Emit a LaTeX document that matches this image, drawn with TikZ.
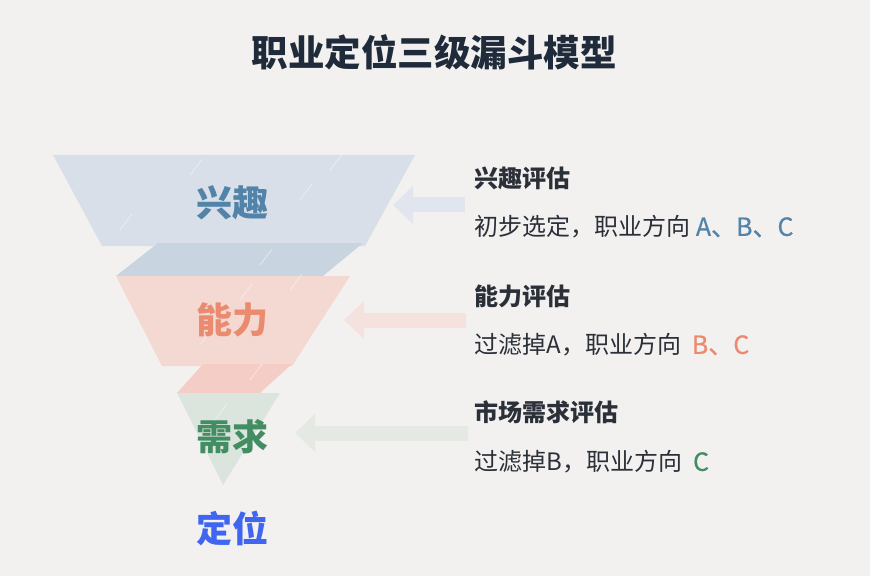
\documentclass[tikz,border=0pt]{standalone}
\usepackage{fontspec}
\setmainfont{Noto Sans CJK SC}
\newfontfamily\latinmedium{Noto Sans CJK SC}[FakeBold=0.6]
\usepackage{xcolor}
\usetikzlibrary{arrows.meta,positioning}

\definecolor{bgcol}{HTML}{F3F1F0}
\definecolor{titlecol}{HTML}{1F2B3A}
\definecolor{textcol}{HTML}{2A2F38}
\definecolor{blueFill}{HTML}{D9DFE8}
\definecolor{blueBand}{HTML}{C8D5E1}
\definecolor{blueText}{HTML}{5283A8}
\definecolor{blueArrow}{HTML}{E0E5EE}
\definecolor{pinkFill}{HTML}{F4D8D2}
\definecolor{pinkBand}{HTML}{F4CEC6}
\definecolor{pinkText}{HTML}{EA8A6E}
\definecolor{pinkArrow}{HTML}{F5E2DF}
\definecolor{greenFill}{HTML}{DCE4DE}
\definecolor{greenText}{HTML}{438D62}
\definecolor{greenArrow}{HTML}{E4E9E4}
\definecolor{posText}{HTML}{4066F0}

\newcommand{\pick}[2]{\textcolor{#1}{\fontsize{25bp}{28bp}\latinmedium #2}}

\begin{document}
\begin{tikzpicture}[x=1bp, y=-1bp, >=Stealth,
    level/.style={font=\fontsize{36bp}{42bp}\selectfont\bfseries},
    head/.style={anchor=west, text=textcol, font=\fontsize{24bp}{28bp}\selectfont\bfseries},
    desc/.style={anchor=west, text=textcol, font=\fontsize{24bp}{28bp}\selectfont},
    arr/.style={line width=15bp, -{Triangle[length=20bp,width=37bp]}}]
    \fill[bgcol] (0,0) rectangle (870,576);
    \useasboundingbox (0,0) rectangle (870,576);

    \node[text=titlecol, font=\fontsize{36.5bp}{42bp}\selectfont\bfseries] (title) at (434,52) {职业定位三级漏斗模型};

    % funnel
    \fill[blueFill] (53,155) -- (415,155) -- (365,246) -- (102,246) -- cycle;
    \fill[blueBand] (158,243) -- (363,243) -- (323,276) -- (116,276) -- cycle;
    \fill[pinkFill] (116,276) -- (350,276) -- (292,366) -- (162,366) -- cycle;
    \fill[pinkBand] (203,364) -- (292,364) -- (260,393) -- (177,393) -- cycle;
    \fill[greenFill] (177,393) -- (280,393) -- (223,485) -- cycle;
    \foreach \x/\y in {120/230, 190/175, 300/200, 260/265, 330/170, 240/300, 200/345, 290/290, 215/420, 250/380}
        \draw[white, opacity=0.45, line width=0.8bp] (\x,\y) -- ++(12,-16);

    \node[level, text=blueText] (interest) at (232,203) {兴趣};
    \node[level, text=pinkText] (ability) at (232,320) {能力};
    \node[level, text=greenText] (demand) at (232,437) {需求};
    \node[level, text=posText] (pos) at (232,528) {定位};

    % right side
    \node[head] (h1) at (471,178) {兴趣评估};
    \node[desc] (d1) at (471,227) {初步选定，职业方向 \pick{blueText}{A、B、C}};
    \node[head] (h2) at (471,296) {能力评估};
    \node[desc] (d2) at (471,345) {过滤掉A，职业方向 \ \pick{pinkText}{B、C}};
    \node[head] (h3) at (471,412) {市场需求评估};
    \node[desc] (d3) at (471,462) {过滤掉B，职业方向 \ \pick{greenText}{C}};

    \coordinate (a1) at (465,205);
    \coordinate (a2) at (466,320);
    \coordinate (a3) at (468,433);
    \coordinate (t1) at (393,205);
    \coordinate (t2) at (344,320);
    \coordinate (t3) at (295,433);
    \draw[arr, blueArrow] (a1) -- (t1);
    \draw[arr, pinkArrow] (a2) -- (t2);
    \draw[arr, greenArrow] (a3) -- (t3);
\end{tikzpicture}
\end{document}
